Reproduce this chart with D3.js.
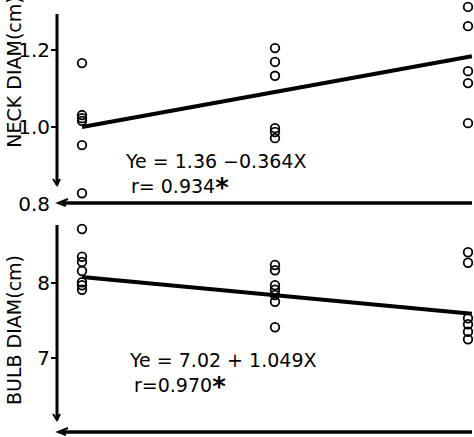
<!DOCTYPE html><html><head><meta charset="utf-8"><script src="https://cdn.jsdelivr.net/npm/d3@7"></script>
<style>body{margin:0;background:#fff}text{font-family:"DejaVu Sans",sans-serif}</style></head><body><svg id="c" width="474" height="437"></svg>
<script>
const groups=[0,1,2];
const neckVals=[[1.166,1.031,1.023,1.016,0.953,0.828],[1.205,1.169,1.133,0.997,0.987,0.971],[1.312,1.262,1.145,1.114,1.010]];
const neckLine=[[0,1.0],[2.02,1.184]];
const bulbVals=[[8.72,8.35,8.28,8.16,8.01,7.97,7.91],[8.24,8.17,7.97,7.91,7.84,7.75,7.41],[8.41,8.27,7.53,7.45,7.35,7.25]];
const bulbLine=[[0,8.08],[2.02,7.59]];
const neckTicks=[1.0,1.2], bulbTicks=[7,8];
const svg=d3.select("#c");
const x=d3.scaleLinear().domain([0,2]).range([82,468]);
function panel(o){
  const y=d3.scaleLinear().domain(o.dom).range(o.rng);
  const g=svg.append("g");
  g.append("line").attr("x1",57).attr("x2",57).attr("y1",o.top).attr("y2",o.brk).attr("stroke","#000").attr("stroke-width",3);
  g.append("path").attr("d",`M53,${o.brk-6}L57,${o.brk}L60,${o.brk-6}`).attr("fill","none").attr("stroke","#000").attr("stroke-width",2);
  g.append("line").attr("x1",62).attr("x2",472).attr("y1",o.base).attr("y2",o.base).attr("stroke","#000").attr("stroke-width",3.5);
  g.append("path").attr("d",`M68,${o.base-4}L58,${o.base}L66,${o.base+3}`).attr("fill","none").attr("stroke","#000").attr("stroke-width",2);
  o.ticks.forEach(t=>{g.append("line").attr("x1",51).attr("x2",57).attr("y1",y(t)).attr("y2",y(t)).attr("stroke","#000").attr("stroke-width",2);
    g.append("text").attr("x",50).attr("y",y(t)).attr("dy","0.35em").attr("text-anchor","end").attr("font-size",20).text(o.fmt(t));});
  o.vals.forEach((vs,i)=>vs.forEach(v=>g.append("circle").attr("cx",x(groups[i])).attr("cy",y(v)).attr("r",4.3).attr("fill","none").attr("stroke","#000").attr("stroke-width",1.8)));
  g.append("path").attr("d",d3.line().x(d=>x(d[0])).y(d=>y(d[1]))(o.line)).attr("stroke","#000").attr("stroke-width",4);
  g.append("text").attr("transform",`translate(21,${o.lab}) rotate(-90)`).attr("text-anchor","middle").attr("font-size",19).text(o.title);
  o.eq.forEach((t,i)=>{const tx=g.append("text").attr("x",o.eqx[i]).attr("y",o.eqy+i*25).attr("font-size",19).text(t);
    if(i==1) tx.append("tspan").attr("font-size",26).attr("font-weight","bold").attr("dy",4).text("*");});
  return y;
}
panel({dom:[1.0,1.2],rng:[127,50],top:14,brk:185,base:203,ticks:neckTicks,fmt:d3.format(".1f"),vals:neckVals,line:neckLine,title:"NECK DIAM(cm)",lab:72,eq:["Ye = 1.36 −0.364X","r= 0.934"],eqx:[126,131],eqy:168});
svg.append("text").attr("x",50).attr("y",204).attr("dy","0.35em").attr("text-anchor","end").attr("font-size",20).text("0.8");
panel({dom:[7,8],rng:[358,283],top:225,brk:420,base:432,ticks:bulbTicks,fmt:d3.format("d"),vals:bulbVals,line:bulbLine,title:"BULB DIAM(cm)",lab:330,eq:["Ye = 7.02 + 1.049X","r=0.970"],eqx:[130,134],eqy:367});
</script></body></html>
